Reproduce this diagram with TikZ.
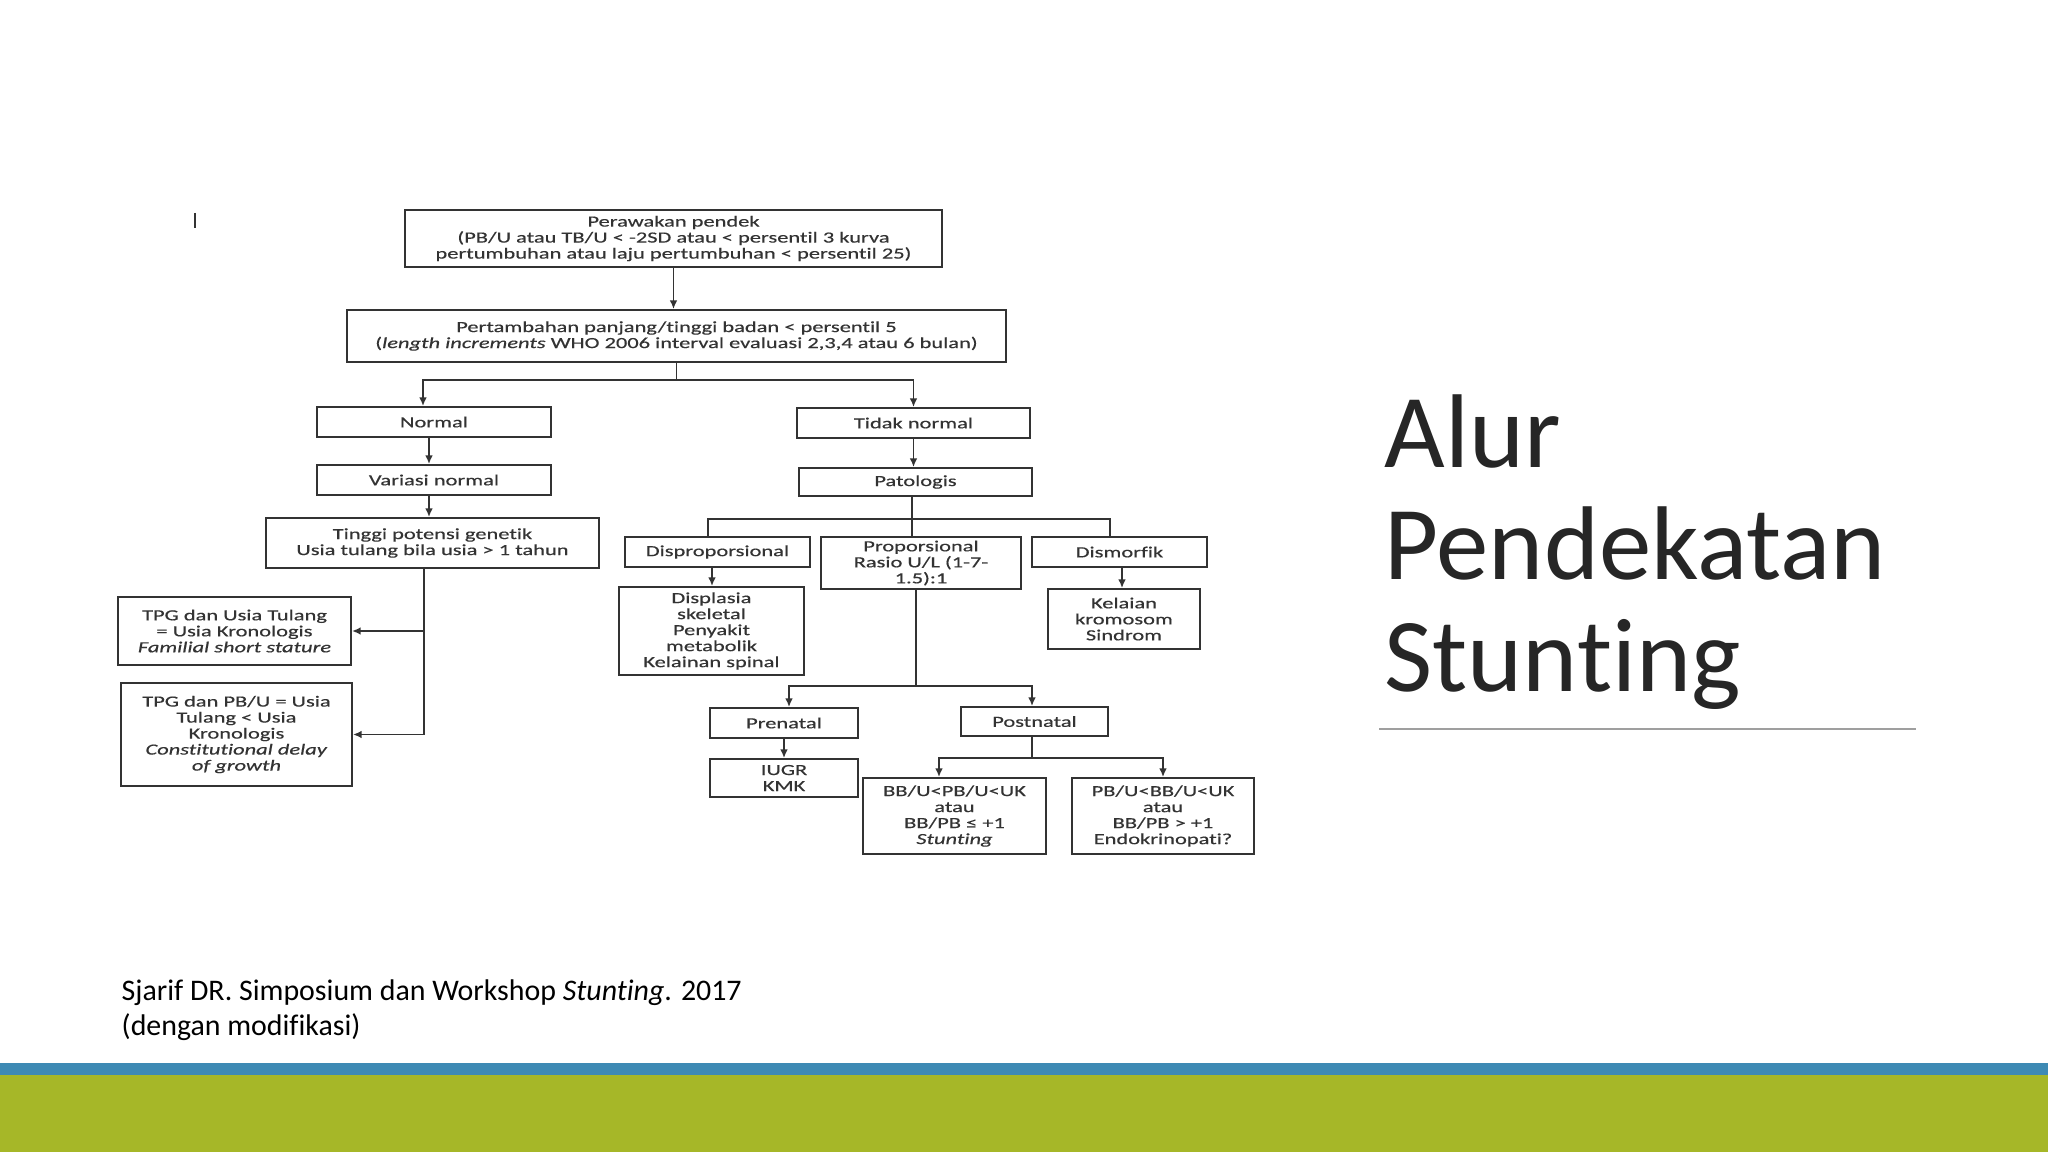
\documentclass[tikz,border=0pt]{standalone}
\usepackage{fontspec}
\setmainfont[Ligatures=NoCommon]{Carlito}
\newfontfamily\diagfont[FakeStretch=1.45,FakeBold=0.4,Ligatures=NoCommon]{Carlito}
\usetikzlibrary{positioning,arrows.meta}
\definecolor{bandblue}{RGB}{62,138,180}
\definecolor{bandgreen}{RGB}{166,183,40}
\definecolor{ink}{RGB}{51,51,51}
\definecolor{titleink}{RGB}{38,38,38}
\tikzset{
  box/.style={draw=ink, line width=0.5pt, align=center, inner sep=0pt, text=ink,
    font=\diagfont\fontsize{4.4}{4.55}\selectfont},
  link/.style={draw=ink, line width=0.5pt},
  arr/.style={link, -{Latex[length=2.5pt,width=2.2pt]}},
  ttl/.style={anchor=base west, inner sep=0pt, text=titleink, font=\fontsize{29.8}{32}\selectfont},
  cite/.style={anchor=base west, inner sep=0pt, font=\fontsize{8.5}{10}\selectfont},
}

\begin{document}
\begin{tikzpicture}[x=0.01cm,y=-0.01cm]
        % Slide frame
        \fill[white] (0,0) rectangle (2048,1152);
        \useasboundingbox (0,0) rectangle (2048,1152);
        \fill[bandblue] (0,1063) rectangle (2048,1075);
        \fill[bandgreen] (0,1075) rectangle (2048,1152);
        \draw[ink, line width=0.5pt] (195,213) -- (195,228);
        % Upper chain
        \node[box, minimum width=5.37cm, minimum height=0.57cm] (top) at (673.5,238.5)
            {Perawakan pendek\\(PB/U atau TB/U < -2SD atau < persentil 3 kurva\\pertumbuhan atau laju pertumbuhan < persentil 25)};
        \node[box, minimum width=6.59cm, minimum height=0.52cm] (incr) at (676.5,336)
            {Pertambahan panjang/tinggi badan < persentil 5\\(\textit{length increments} WHO 2006 interval evaluasi 2,3,4 atau 6 bulan)};
        % Left branch
        \node[box, minimum width=2.34cm, minimum height=0.30cm] (normal) at (434,422) {Normal};
        \node[box, minimum width=2.34cm, minimum height=0.30cm] (variasi) at (434,480) {Variasi normal};
        \node[box, minimum width=3.33cm, minimum height=0.50cm] (tinggi) at (432.5,543)
            {Tinggi potensi genetik\\Usia tulang bila usia > 1 tahun};
        \node[box, minimum width=2.33cm, minimum height=0.68cm] (tpgA) at (234.5,631)
            {TPG dan Usia Tulang\\= Usia Kronologis\\\textit{Familial short stature}};
        \node[box, minimum width=2.31cm, minimum height=1.03cm] (tpgB) at (236.5,734.5)
            {TPG dan PB/U = Usia\\Tulang < Usia\\Kronologis\\\textit{Constitutional delay}\\\textit{of growth}};
        % Right branch
        \node[box, minimum width=2.33cm, minimum height=0.30cm] (tidak) at (913.5,423) {Tidak normal};
        \node[box, minimum width=2.33cm, minimum height=0.28cm] (patologis) at (915.5,482) {Patologis};
        \node[box, minimum width=1.85cm, minimum height=0.30cm] (dispro) at (717.5,552) {Disproporsional};
        \node[box, minimum width=2.00cm, minimum height=0.52cm] (propor) at (921,563)
            {Proporsional\\Rasio U/L (1-7-\\1.5):1};
        \node[box, minimum width=1.75cm, minimum height=0.30cm] (dismorf) at (1119.5,552) {Dismorfik};
        \node[box, minimum width=1.85cm, minimum height=0.88cm] (displasia) at (711.5,631)
            {Displasia\\skeletal\\Penyakit\\metabolik\\Kelainan spinal};
        \node[box, minimum width=1.52cm, minimum height=0.60cm] (kelaian) at (1124,619)
            {Kelaian\\kromosom\\Sindrom};
        \node[box, minimum width=1.48cm, minimum height=0.30cm] (prenatal) at (784,723) {Prenatal};
        \node[box, minimum width=1.47cm, minimum height=0.29cm] (postnatal) at (1034.5,721.5) {Postnatal};
        \node[box, minimum width=1.48cm, minimum height=0.38cm] (iugr) at (784,778) {IUGR\\KMK};
        \node[box, minimum width=1.83cm, minimum height=0.76cm] (stunt) at (954.5,816)
            {BB/U<PB/U<UK\\atau\\BB/PB ≤ +1\\\textit{Stunting}};
        \node[box, minimum width=1.82cm, minimum height=0.76cm] (endo) at (1163,816)
            {PB/U<BB/U<UK\\atau\\BB/PB > +1\\Endokrinopati?};
        % Connectors
        \draw[arr] (top.south) -- (top.south |- incr.north);
        \draw[arr] (incr.south) -- ++(0,17) -| ([xshift=-0.11cm]normal.north);
        \draw[arr] (incr.south) -- ++(0,17) -| (tidak.north);
        \draw[arr] ([xshift=-0.05cm]normal.south) -- ([xshift=-0.05cm]variasi.north);
        \draw[arr] ([xshift=-0.05cm]variasi.south) -- ([xshift=-0.05cm]variasi.south |- tinggi.north);
        \draw[arr] ([xshift=-0.085cm]tinggi.south) |- (tpgA.east);
        \draw[arr] ([xshift=-0.085cm]tinggi.south) |- (tpgB.east);
        \draw[arr] (tidak.south) -- (tidak.south |- patologis.north);
        \draw[link] ([xshift=-0.035cm]patologis.south) -- ++(0,22) -| ([xshift=-0.095cm]dispro.north);
        \draw[link] ([xshift=-0.035cm]patologis.south) -- ++(0,22) -| ([xshift=-0.095cm]dismorf.north);
        \draw[link] ([xshift=-0.035cm]patologis.south) -- ([xshift=-0.035cm]patologis.south |- propor.north);
        \draw[arr] ([xshift=-0.055cm]dispro.south) -- ([xshift=-0.055cm]dispro.south |- displasia.north);
        \draw[arr] ([xshift=0.025cm]dismorf.south) -- ([xshift=0.025cm]dismorf.south |- kelaian.north);
        \draw[arr] ([xshift=-0.05cm]propor.south) -- ++(0,96) -| ([xshift=0.05cm]prenatal.north);
        \draw[arr] ([xshift=-0.05cm]propor.south) -- ++(0,96) -| ([xshift=-0.025cm]postnatal.north);
        \draw[arr] (prenatal.south) -- (prenatal.south |- iugr.north);
        \draw[arr] ([xshift=-0.025cm]postnatal.south) -- ++(0,21) -| ([xshift=-0.155cm]stunt.north);
        \draw[arr] ([xshift=-0.025cm]postnatal.south) -- ++(0,21) -| (endo.north);
        % Title and source
        \node[ttl] (ttlA) at (1384,468) {Alur};
        \node[ttl] (ttlB) at (1384,580) {Pendekatan};
        \node[ttl] (ttlC) at (1384,692) {Stunting};
        \draw[gray!75, line width=0.5pt] (1379,729) -- (1916,729);
        \node[cite] (citeA) at (121,1000) {Sjarif DR. Simposium dan Workshop {\itshape Stunting}. 2017};
        \node[cite] (citeB) at (121,1035) {(dengan modifikasi)};
    \end{tikzpicture}
\end{document}
